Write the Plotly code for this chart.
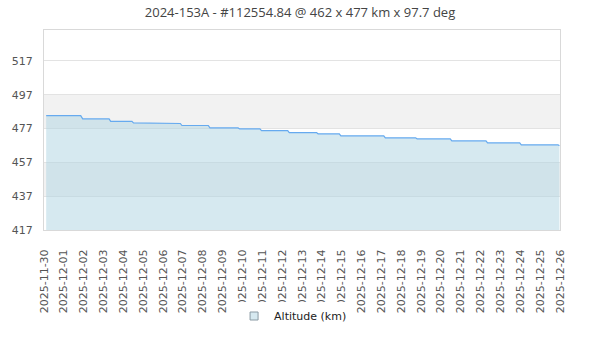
import plotly.graph_objects as go

title_text = "2024-153A - #112554.84 @ 462 x 477 km x 97.7 deg"
series_name = "Altitude (km)"

times = [
    "2025-11-30 02:38", "2025-12-01 20:24",
    "2025-12-01 22:48", "2025-12-03 06:43",
    "2025-12-03 08:38", "2025-12-04 10:19",
    "2025-12-04 12:14", "2025-12-05 12:43",
    "2025-12-05 14:38", "2025-12-06 20:53",
    "2025-12-06 22:48", "2025-12-08 06:43",
    "2025-12-08 08:38", "2025-12-09 18:43",
    "2025-12-09 20:38", "2025-12-10 21:07",
    "2025-12-10 23:02", "2025-12-12 06:43",
    "2025-12-12 08:38", "2025-12-13 17:31",
    "2025-12-13 19:26", "2025-12-14 21:07",
    "2025-12-14 23:02", "2025-12-17 02:53",
    "2025-12-17 04:48", "2025-12-18 17:17",
    "2025-12-18 19:12", "2025-12-20 11:17",
    "2025-12-20 13:12", "2025-12-22 06:29",
    "2025-12-22 08:24", "2025-12-23 23:17",
    "2025-12-24 01:12", "2025-12-25 21:36",
    "2025-12-25 23:17",
]
altitude = [
    484.7, 484.6,
    482.7, 482.7,
    481.3, 481.3,
    480.4, 480.4,
    480.0, 480.0,
    478.8, 478.8,
    477.4, 477.4,
    476.8, 476.8,
    475.8, 475.8,
    474.6, 474.6,
    473.9, 473.9,
    472.7, 472.7,
    471.5, 471.5,
    470.9, 470.9,
    469.7, 469.7,
    468.5, 468.5,
    467.4, 467.4,
    466.8,
]

y_min, y_max, y_step = 417, 535.3, 20
x_range = ["2025-11-30", "2025-12-26"]
bands = [(437, 457), (477, 497)]

fill_color = "rgba(173,211,225,0.5)"
line_color = "#66aaef"

fig = go.Figure()
fig.add_trace(go.Scatter(
    x=times, y=altitude, mode="lines", fill="tozeroy",
    fillcolor=fill_color, line=dict(color=line_color, width=1.2),
    showlegend=False, name=series_name,
))
fig.add_trace(go.Scatter(
    x=[None], y=[None], mode="markers", name=series_name,
    marker=dict(symbol="square", size=8, color="#d6e9f0",
                line=dict(color="#8a9aa3", width=1)),
))

for lo, hi in bands:
    fig.add_shape(type="rect", xref="paper", x0=0, x1=1, yref="y", y0=lo, y1=hi,
                  fillcolor="#f2f2f2", line_width=0, layer="below")

fig.update_layout(
    width=600, height=360,
    margin=dict(l=40, r=40, t=30, b=130),
    paper_bgcolor="white", plot_bgcolor="white",
    title=dict(text=title_text, x=0.5, xanchor="center", y=1 - 12 / 360, yanchor="middle",
               font=dict(family="Open Sans", size=13, color="#444444")),
    font=dict(family="DejaVu Sans", size=11, color="#555555"),
    legend=dict(orientation="h", x=0.5 - 9 / 520, xanchor="center", y=-0.43, yanchor="middle",
                bgcolor="white", font=dict(family="DejaVu Sans", size=11, color="#222222")),
    xaxis=dict(
        range=x_range, type="date", tickformat="%Y-%m-%d", dtick=86400000,
        tick0="2025-11-30", tickangle=-90, showgrid=False, showline=True,
        linecolor="#d9d9d9", linewidth=1, mirror=True, ticks="",
        ticklabelstandoff=14, zeroline=False,
        tickfont=dict(family="DejaVu Sans", size=11, color="#555555"),
    ),
    yaxis=dict(
        range=[y_min, y_max], tick0=y_min, dtick=y_step, showgrid=True,
        gridcolor="#e3e3e3", gridwidth=1, showline=True, linecolor="#d9d9d9",
        linewidth=1, mirror=True, ticks="", ticklabelstandoff=8, zeroline=False,
        tickfont=dict(family="DejaVu Sans", size=11, color="#555555"),
    ),
)

fig.write_html("out.html")
